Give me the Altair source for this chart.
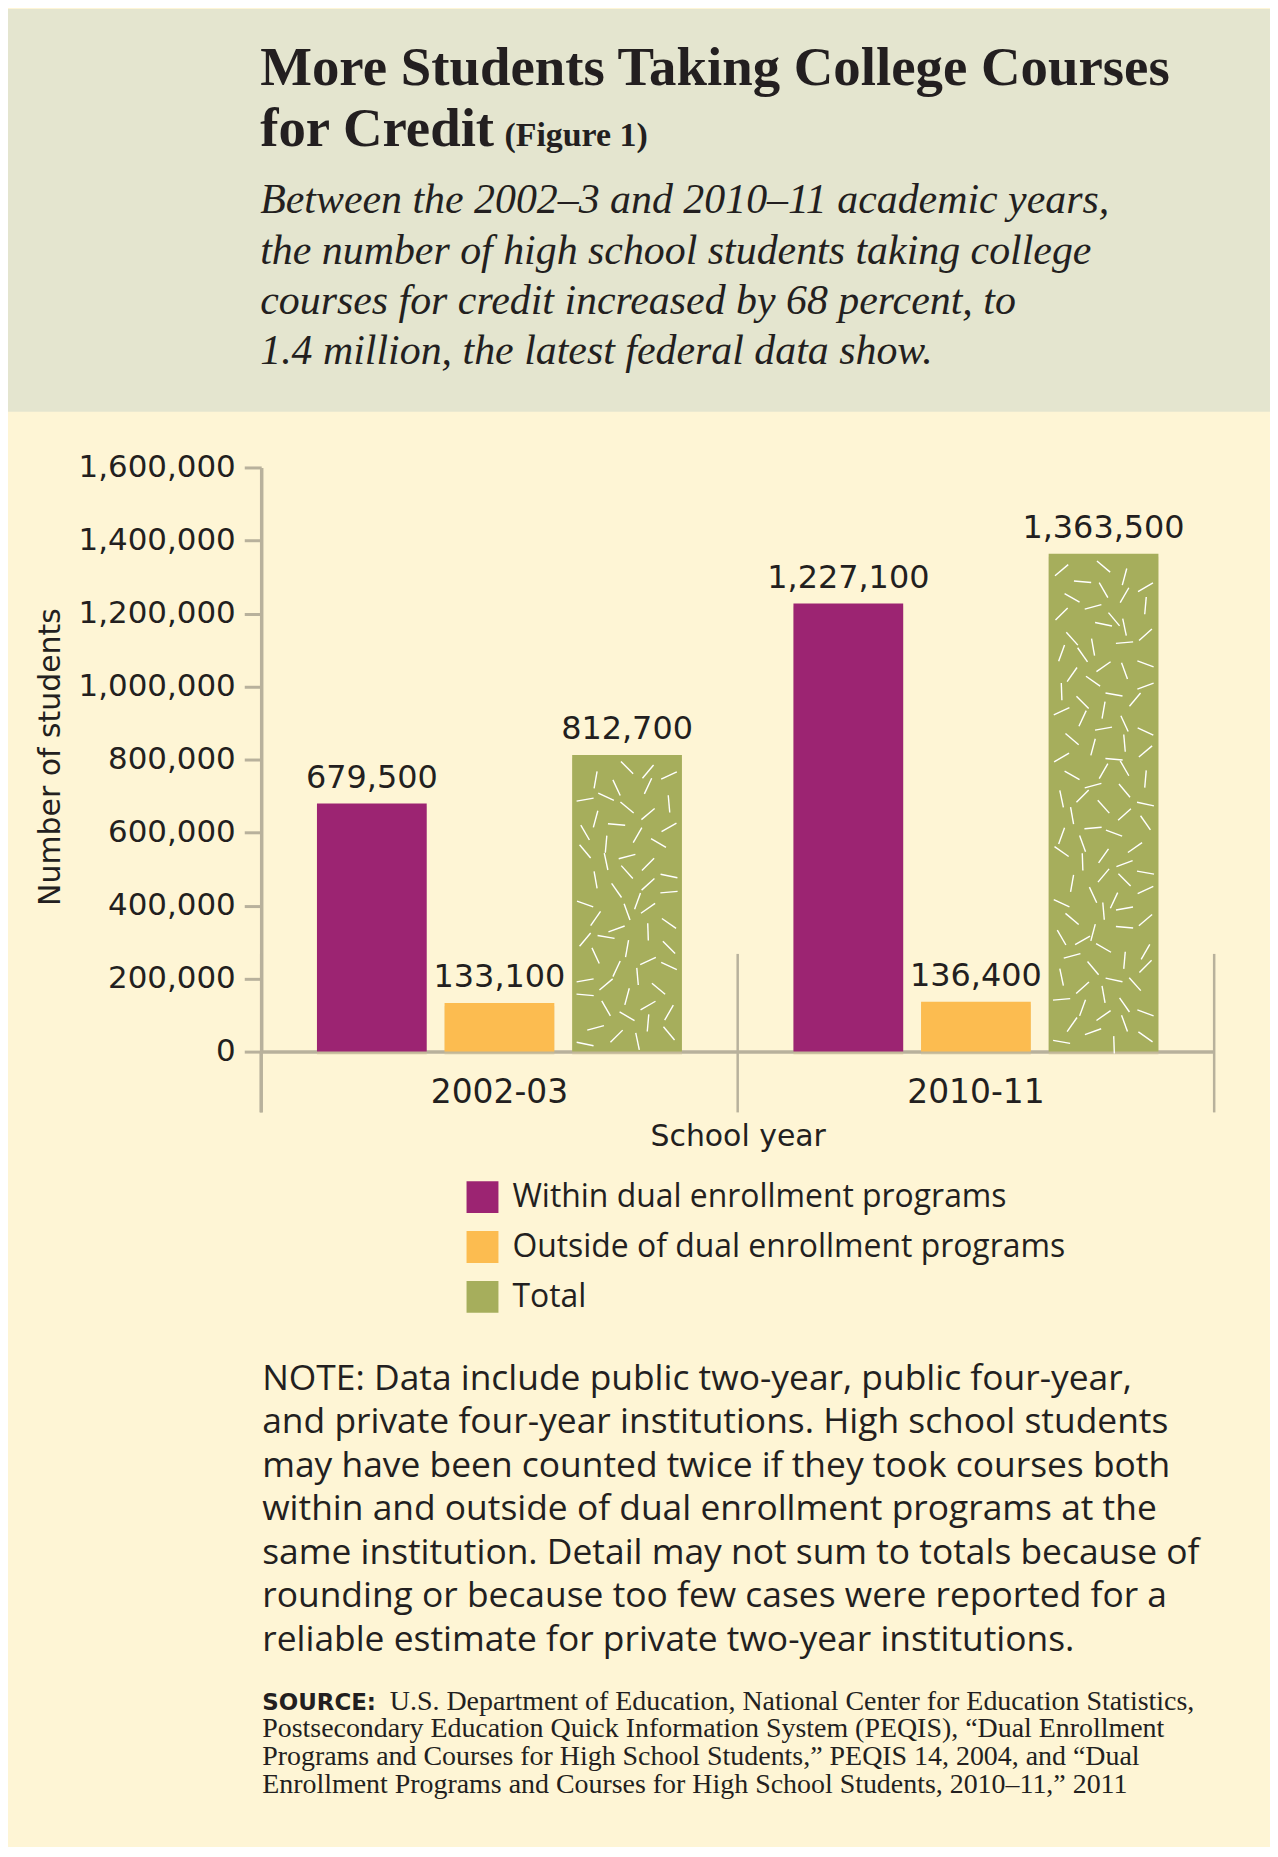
import altair as alt
import pandas as pd

# ---------------- data ----------------
years = ["2002-03", "2010-11"]
series = ["Within dual enrollment programs", "Outside of dual enrollment programs", "Total"]
colors = ["#9C2472", "#FCBC50", "#A6AE5C"]
within = [679500, 1227100]
outside = [133100, 136400]
total = [812700, 1363500]
y_ticks = [0, 200000, 400000, 600000, 800000, 1000000, 1200000, 1400000, 1600000]

title_1 = "More Students Taking College Courses"
title_2a = "for Credit"
title_2b = "(Figure 1)"
subtitle = [
    "Between the 2002\u20133 and 2010\u201311 academic years,",
    "the number of high school students taking college",
    "courses for credit increased by 68 percent, to",
    "1.4 million, the latest federal data show.",
]
note = [
    "NOTE: Data include public two-year, public four-year,",
    "and private four-year institutions. High school students",
    "may have been counted twice if they took courses both",
    "within and outside of dual enrollment programs at the",
    "same institution. Detail may not sum to totals because of",
    "rounding or because too few cases were reported for a",
    "reliable estimate for private two-year institutions.",
]
source_head = "SOURCE:"
source_1 = "U.S. Department of Education, National Center for Education Statistics,"
source_rest = [
    "Postsecondary Education Quick Information System (PEQIS), \u201cDual Enrollment",
    "Programs and Courses for High School Students,\u201d PEQIS 14, 2004, and \u201cDual",
    "Enrollment Programs and Courses for High School Students, 2010\u201311,\u201d 2011",
]

rows = []
for i, y in enumerate(years):
    for s, v in zip(series, [within[i], outside[i], total[i]]):
        rows.append({"year": y, "series": s, "value": v})
df = pd.DataFrame(rows)

# decorative white-dash texture for the "Total" bars (hand-picked layout lists)
ROW_STEP = 26000
N_COL = 9
col_pairs = [(0, 5), (3, 8), (1, 6), (4, 8), (2, 6), (0, 4), (2, 7), (5, 0), (8, 3),
             (1, 6), (4, 8), (0, 2), (6, 3), (8, 1), (4, 6)]
ang_list = [12, 78, 135, 50, 165, 95, 30, 120, 60, 150, 5, 105, 140, 40, 85, 170, 25,
            115, 65, 155, 100, 45, 130, 10, 88, 160, 35, 125, 70, 145, 20, 110, 55,
            175, 80, 138, 48]
jit_list = [0, 0.28, -0.18, 0.12, -0.3, 0.22, -0.08, 0.3, -0.25, 0.05, 0.18]
tex = []
k = 0
for y, tot in zip(years, total):
    r = 0
    while True:
        base_y = (r + 0.8) * ROW_STEP
        if base_y > tot - 0.8 * ROW_STEP:
            break
        for c in col_pairs[r % len(col_pairs)]:
            yv = base_y + jit_list[k % len(jit_list)] * ROW_STEP
            tex.append({"year": y, "value": yv, "col": c, "ang": ang_list[k % len(ang_list)]})
            k += 1
        r += 1
tex_df = pd.DataFrame(tex)

W, H = 956, 586
AXIS_GRAY = "#B8B19C"
TEXT = "#231F20"
SANS = "DejaVu Sans"
NOTE_FONT = "Open Sans"

# band layout
P_IN, P_OUT = 0.14, 0.437
x_scale = alt.Scale(paddingInner=0, paddingOuter=0)
xo_scale = alt.Scale(domain=series, paddingInner=P_IN, paddingOuter=P_OUT)
y_scale = alt.Scale(domain=[0, 1600000], nice=False)

x_axis = alt.Axis(title="School year", labelAngle=0, ticks=False,
                  domainColor=AXIS_GRAY, domainWidth=3.5,
                  labelFont=SANS, labelFontSize=33, labelColor=TEXT,
                  labelPadding=25, titleFont=SANS, titleFontSize=30,
                  titleFontWeight="normal", titleColor=TEXT,
                  titleY=85, titleBaseline="middle")
y_axis = alt.Axis(title="Number of students", values=y_ticks,
                  labelExpr="format(datum.value, ',')",
                  grid=False, domainColor=AXIS_GRAY, domainWidth=3.5,
                  tickColor=AXIS_GRAY, tickWidth=3, tickSize=17,
                  labelFont=SANS, labelFontSize=31, labelColor=TEXT,
                  labelPadding=9, titleFont=SANS, titleFontSize=30,
                  titleFontWeight="normal", titleColor=TEXT,
                  titleX=-211, titleY=290, titleAlign="center",
                  titleBaseline="middle")


def Xb(bp=None):
    if bp is None:
        return alt.X("year:N", scale=x_scale, sort=years, axis=x_axis)
    return alt.X("year:N", scale=x_scale, sort=years, axis=x_axis, bandPosition=bp)


XO = alt.XOffset("series:N", scale=xo_scale, sort=series)
Y = alt.Y("value:Q", scale=y_scale, axis=y_axis)

base = alt.Chart(df)

header = alt.Chart(pd.DataFrame({"a": [0]})).mark_rect(color="#E4E5CF").encode(
    x=alt.value(-254), x2=alt.value(1020), y=alt.value(-460), y2=alt.value(-56))

shadow = base.mark_bar(color="#CDBE94", opacity=0.45, xOffset=5, yOffset=3, y2Offset=5).encode(
    x=Xb(), xOffset=XO, y=Y)

bars = base.mark_bar().encode(
    x=Xb(), xOffset=XO, y=Y,
    color=alt.Color("series:N", sort=series,
                    scale=alt.Scale(domain=series, range=colors),
                    legend=alt.Legend(title=None, orient="none", legendX=206, legendY=716,
                                      direction="vertical", symbolType="square",
                                      symbolSize=1024, symbolStrokeWidth=0,
                                      symbolOpacity=1, labelLimit=1000,
                                      labelFont=NOTE_FONT, labelFontSize=32,
                                      labelColor=TEXT, labelOffset=14,
                                      rowPadding=18, padding=0)))

# texture columns placed inside the Total sub-band through the band scale
step = 1.0 / (3 - P_IN + 2 * P_OUT)          # sub-band step as fraction of band
t_width = step * (1 - P_IN)
t_start = step * (P_OUT + 2) + t_width * 0.07
t_span = t_width * 0.86
tex_layers = []
for c in range(N_COL):
    bp = t_start + t_span * (c + 0.5) / N_COL
    tex_layers.append(
        alt.Chart(tex_df).transform_filter(alt.datum.col == c).mark_point(
            shape="stroke", size=300, stroke="white", strokeWidth=1.4,
            filled=False, opacity=1).encode(
            x=Xb(bp), y=Y,
            angle=alt.Angle("ang:Q", scale=None)))

labels = base.mark_text(font=SANS, fontSize=32, color=TEXT, dy=-16,
                        baseline="alphabetic").encode(
    x=Xb(), xOffset=XO, y=Y,
    text=alt.Text("value:Q", format=","))

yr_df = pd.DataFrame({"year": years})
sep_a = alt.Chart(yr_df).mark_rule(color=AXIS_GRAY, strokeWidth=2.5).encode(
    x=Xb(0), y=alt.value(H - 98), y2=alt.value(H + 61))
sep_b = alt.Chart(yr_df).transform_filter(alt.datum.year == years[-1]).mark_rule(
    color=AXIS_GRAY, strokeWidth=2.5).encode(
    x=Xb(1), y=alt.value(H - 98), y2=alt.value(H + 61))
yext = alt.Chart(yr_df).transform_filter(alt.datum.year == years[0]).mark_rule(
    color=AXIS_GRAY, strokeWidth=3.5).encode(
    x=Xb(0), y=alt.value(H), y2=alt.value(H + 61))

one = pd.DataFrame({"a": [0]})


def txt(text, x, y, **kw):
    return alt.Chart(one).mark_text(text=text, align="left", baseline="alphabetic", **kw).encode(
        x=alt.value(x), y=alt.value(y))


t1 = txt(title_1, -1, -384, font="Liberation Serif", fontSize=55, fontWeight="bold", color=TEXT)
t2 = txt(title_2a, -1, -322, font="Liberation Serif", fontSize=55, fontWeight="bold", color=TEXT)
t3 = txt(title_2b, 244, -322, font="Liberation Serif", fontSize=34, fontWeight="bold", color=TEXT)
sub = txt(subtitle, -1, -255, font="Liberation Serif", fontSize=42, fontStyle="italic",
          color=TEXT, lineHeight=50.5)
nt = txt(note, 1, 925, font=NOTE_FONT, fontSize=35.5, fontWeight=500, color=TEXT,
         lineHeight=43.7)
sh = txt(source_head, 1, 1246, font=SANS, fontSize=23, fontWeight="bold", color=TEXT)
s1 = txt(source_1, 129, 1246, font="Liberation Serif", fontSize=28, color=TEXT)
s2 = txt(source_rest, 1, 1274, font="Liberation Serif", fontSize=28, color=TEXT,
         lineHeight=27.8)

chart = alt.layer(
    header, shadow, bars, *tex_layers, labels, sep_a, sep_b, yext,
    t1, t2, t3, sub, nt, sh, s1, s2
).properties(
    width=W, height=H,
    padding={"left": 254, "top": 458, "right": 56, "bottom": 795},
    autosize=alt.AutoSizeParams(type="none"),
).configure(background="#FEF5D5").configure_view(stroke=None)

chart.save("out.html", embed_options={"renderer": "svg", "actions": False})
